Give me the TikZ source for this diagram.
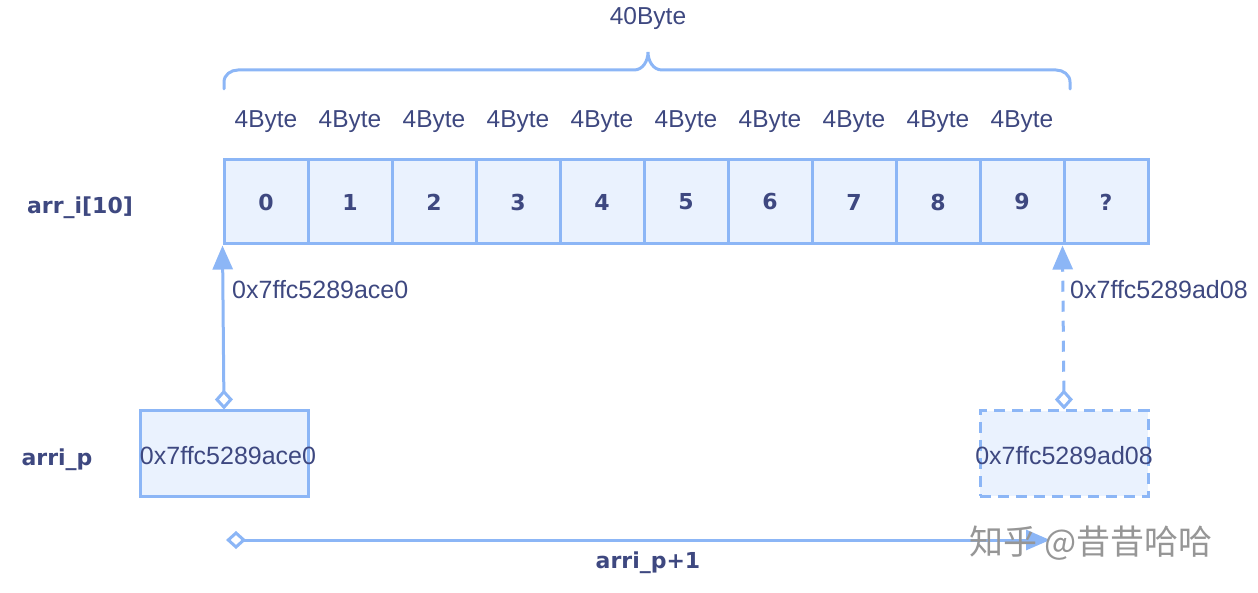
\documentclass[tikz,border=0pt]{standalone}
\usepackage{fontspec}
\setmainfont{Liberation Sans}
\newfontfamily\lblfont{DejaVu Sans}
\newfontfamily\cjk{Noto Sans CJK SC}
\usetikzlibrary{arrows.meta}
\definecolor{lb}{RGB}{140,182,246}
\definecolor{fillb}{RGB}{234,242,254}
\definecolor{txt}{RGB}{62,72,128}
\definecolor{wm}{RGB}{150,150,150}
\begin{document}
\begin{tikzpicture}[x=1pt,y=1pt,
  cell/.style={draw=lb, fill=fillb, line width=3pt, minimum width=84pt, minimum height=84pt, inner sep=0pt,
    font=\lblfont\bfseries\fontsize{22}{24}\selectfont, text=txt},
  ptrbox/.style={draw=lb, fill=fillb, line width=3pt, minimum width=168pt, minimum height=85pt, inner sep=0pt},
  boxtext/.style={font=\fontsize{25}{28}\selectfont, text=txt, inner sep=0pt},
  bytelbl/.style={font=\fontsize{24.5}{28}\selectfont, text=txt, inner sep=0pt},
  addr/.style={font=\fontsize{25}{28}\selectfont, text=txt, inner sep=0pt, anchor=west},
  namelbl/.style={font=\lblfont\bfseries\fontsize{22}{24}\selectfont, text=txt, inner sep=0pt},
  conn/.style={draw=lb, line width=3pt},
  ptrarrow/.style={conn, arrows={Diamond[open, length=20pt, width=18pt]-Triangle[length=24pt, width=20pt]}}
]
\useasboundingbox (0,0) rectangle (1258,592);
% array cells
\foreach \i/\t in {0/0,1/1,2/2,3/3,4/4,5/5,6/6,7/7,8/8,9/9,10/?} {
  \node[cell] (c\i) at ({266+84*\i},390) {\t};
}
\foreach \i in {0,...,9} {
  \node[bytelbl] (b\i) at ({266+84*\i},470) {4Byte};
}
% brace
\draw[conn, line cap=round] (224,503) -- (224,510) to[out=90,in=180] (238,522) -- (634,522)
  to[out=0,in=270] (648,540) to[out=270,in=180] (662,522) -- (1056,522)
  to[out=0,in=90] (1070,510) -- (1070,503);
\node[bytelbl] (total) at (648,574) {40Byte};
% labels
\node[namelbl] (arrname) at (80,384) {arr\_i[10]};
\node[namelbl] (pname) at (57,132) {arri\_p};
% pointer boxes
\node[ptrbox] (p) at (224,138.5) {};
\node[boxtext] (pt) at (228,136) {0x7ffc5289ace0};
\node[ptrbox, dashed, dash pattern=on 11pt off 7pt] (q) at (1064,138.5) {};
\node[boxtext] (qt) at (1064,136) {0x7ffc5289ad08};
% connectors
\draw[ptrarrow] (p.north) -- (c0.south west);
\draw[ptrarrow, dash pattern=on 11pt off 9pt] (q.north) -- (c10.south west);
\node[addr] (a0) at (232,302) {0x7ffc5289ace0};
\node[addr] (a1) at (1070,302) {0x7ffc5289ad08};
% bottom
\coordinate (bs) at (226,52);
\coordinate (be) at (1050,52);
\draw[ptrarrow] (bs) -- (be);
\node[namelbl] (plus) at (648,29) {arri\_p+1};
% watermark
\node[font=\cjk\fontsize{34}{38}\selectfont, text=wm, inner sep=0pt] (wmk) at (1091,49) {知乎 @昔昔哈哈};
\end{tikzpicture}
\end{document}
